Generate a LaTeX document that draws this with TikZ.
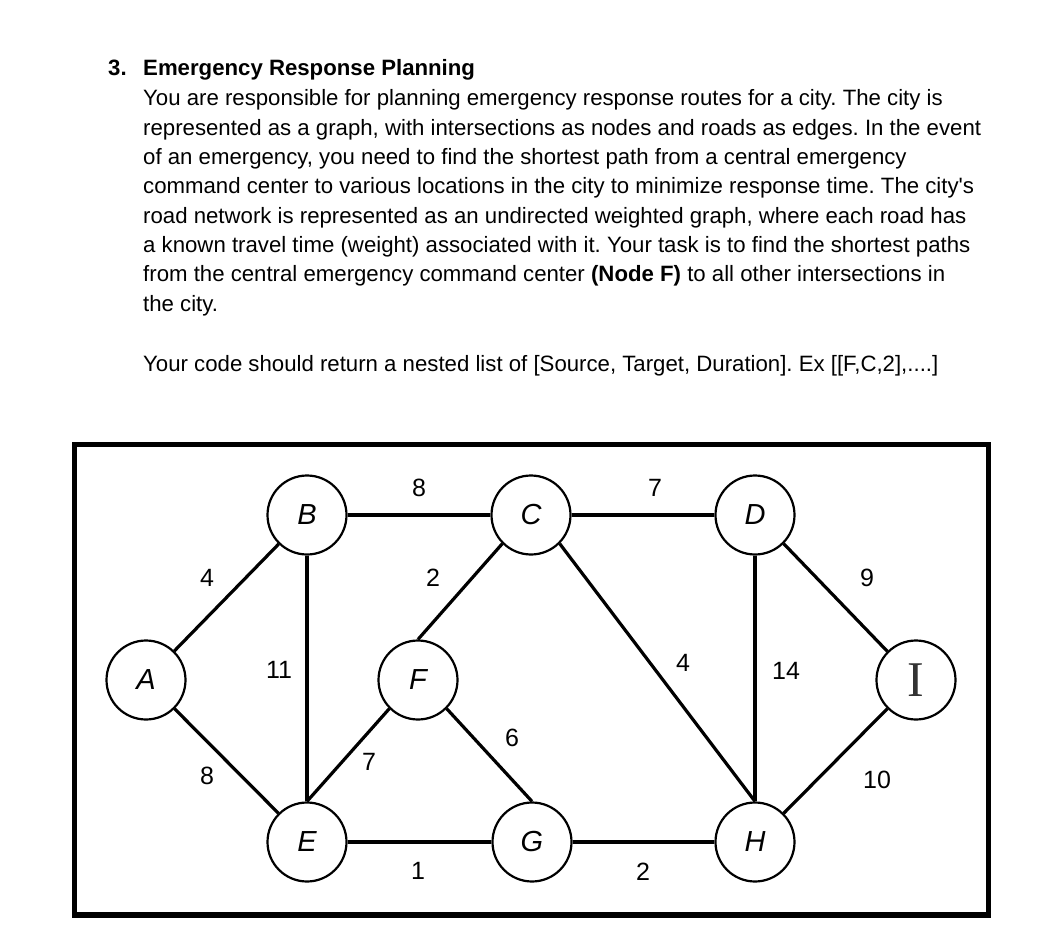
\documentclass[tikz,border=0pt]{standalone}
\usepackage{fontspec}
\setmainfont{Liberation Sans}[Ligatures=TeXOff]
\newfontfamily\romanI{Liberation Serif}
\frenchspacing
\begin{document}
\begin{tikzpicture}[x=1pt,y=-1pt,
  vertex/.style={draw,circle,line width=2.2pt,minimum size=79pt,inner sep=0pt,
    font=\fontsize{29}{29}\selectfont\itshape},
  road/.style={line width=3.2pt},
  weight/.style={inner sep=0pt,font=\fontsize{25}{25}\selectfont},
  para/.style={anchor=base west,inner sep=0pt,font=\fontsize{22.2}{22.2}\selectfont}]
  \useasboundingbox (0,0) rectangle (1061,947);
  % task text
  \node[para,font=\fontsize{22.2}{22.2}\selectfont\bfseries] (num) at (108,76) {3.};
  \node[para,font=\fontsize{22.2}{22.2}\selectfont\bfseries] (title) at (143,76) {Emergency Response Planning};
  \node[para] (l1) at (143,106) {You are responsible for planning emergency response routes for a city. The city is};
  \node[para] (l2) at (143,135.3) {represented as a graph, with intersections as nodes and roads as edges. In the event};
  \node[para] (l3) at (143,164.6) {of an emergency, you need to find the shortest path from a central emergency};
  \node[para] (l4) at (143,193.9) {command center to various locations in the city to minimize response time. The city's};
  \node[para] (l5) at (143,223.2) {road network is represented as an undirected weighted graph, where each road has};
  \node[para] (l6) at (143,252.5) {a known travel time (weight) associated with it. Your task is to find the shortest paths};
  \node[para] (l7) at (143,281.8) {from the central emergency command center \textbf{(Node F)} to all other intersections in};
  \node[para] (l8) at (143,311.1) {the city.};
  \node[para] (l9) at (143,371) {Your code should return a nested list of [Source, Target, Duration]. Ex [[F,C,2],....]};
  % frame
  \draw[line width=5.5pt] (74.5,444.5) rectangle (988.5,915);
  % intersections
  \node[vertex] (A) at (146,680) {A};
  \node[vertex] (B) at (307,515) {B};
  \node[vertex] (C) at (531,515) {C};
  \node[vertex] (D) at (755,515) {D};
  \node[vertex] (F) at (418,680) {F};
  \node[vertex,font=\romanI\fontsize{50}{50}\selectfont,text=black!80] (I) at (916,680) {I};
  \node[vertex] (E) at (307,842) {E};
  \node[vertex] (G) at (532,842) {G};
  \node[vertex] (H) at (755,842) {H};
  % roads
  \draw[road] (A) -- (B);
  \draw[road] (A) -- (E);
  \draw[road] (B) -- (C);
  \draw[road] (C) -- (D);
  \draw[road] (B) -- (E);
  \draw[road] (F.north) -- (C.south west);
  \draw[road] (F.south west) -- (E.north);
  \draw[road] (F.south east) -- (G.north);
  \draw[road] (E) -- (G);
  \draw[road] (G) -- (H);
  \draw[road] (C.south east) -- (H.north);
  \draw[road] (D) -- (H);
  \draw[road] (D.south east) -- (I.north west);
  \draw[road] (H.north east) -- (I.south west);
  % travel times
  \node[weight] (wAB) at (207,578) {4};
  \node[weight] (wAE) at (207,776) {8};
  \node[weight] (wBC) at (419,488) {8};
  \node[weight] (wCD) at (655,488) {7};
  \node[weight] (wBE) at (279,670) {11};
  \node[weight] (wFC) at (433,578) {2};
  \node[weight] (wFE) at (369,762) {7};
  \node[weight] (wFG) at (512,738) {6};
  \node[weight] (wEG) at (418,871) {1};
  \node[weight] (wGH) at (643,872) {2};
  \node[weight] (wCH) at (683,663) {4};
  \node[weight] (wDH) at (786,671) {14};
  \node[weight] (wDI) at (867,578) {9};
  \node[weight] (wHI) at (877,780) {10};
\end{tikzpicture}
\end{document}
